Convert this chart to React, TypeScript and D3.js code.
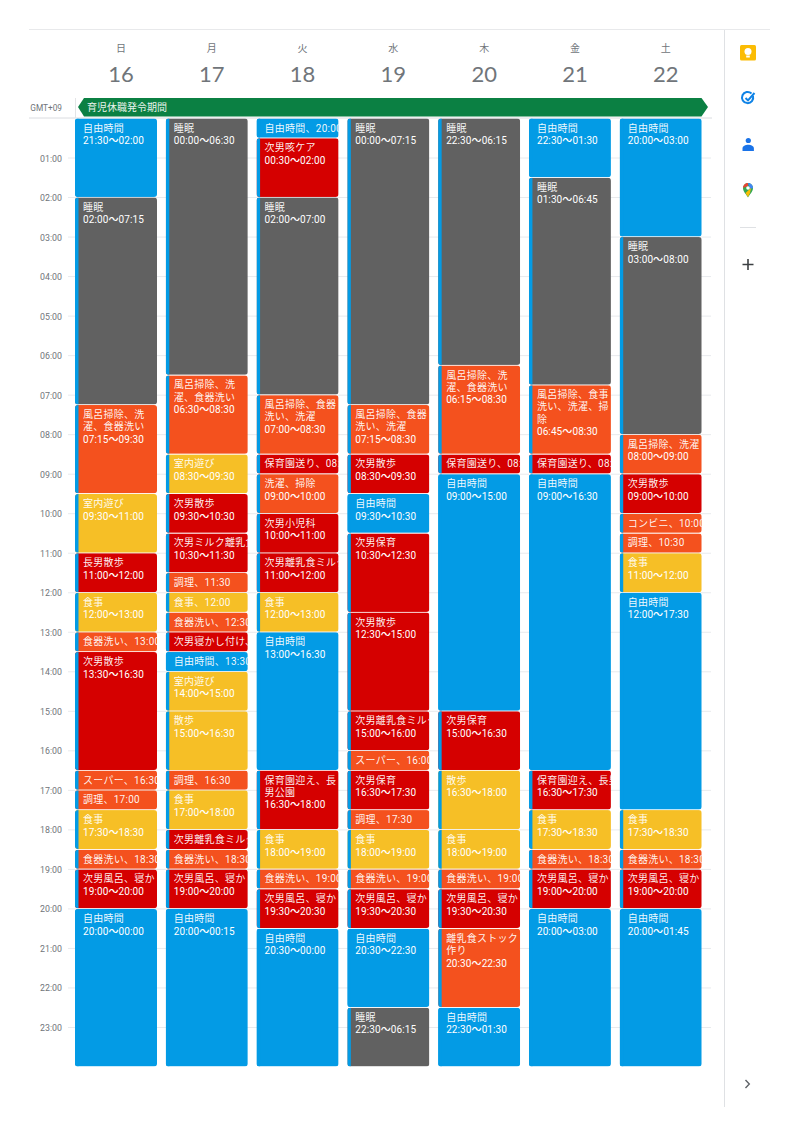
import React from "react";
import * as d3 from "d3";

type Kind = "free" | "sleep" | "chore" | "kid" | "meal";
type Ev = [number, number, Kind, string[]];

const dayNames = ["日", "月", "火", "水", "木", "金", "土"];
const dayNumbers = ["16", "17", "18", "19", "20", "21", "22"];
const hourLabels = d3.range(1, 24).map((h) => `${String(h).padStart(2, "0")}:00`);
const bannerLabel = "育児休職発令期間";

const sun16: Ev[] = [
  [0, 2, "free", ["自由時間", "21:30〜02:00"]],
  [2, 7.25, "sleep", ["睡眠", "02:00〜07:15"]],
  [7.25, 9.5, "chore", ["風呂掃除、洗", "濯、食器洗い", "07:15〜09:30"]],
  [9.5, 11, "meal", ["室内遊び", "09:30〜11:00"]],
  [11, 12, "kid", ["長男散歩", "11:00〜12:00"]],
  [12, 13, "meal", ["食事", "12:00〜13:00"]],
  [13, 13.5, "chore", ["食器洗い、13:00"]],
  [13.5, 16.5, "kid", ["次男散歩", "13:30〜16:30"]],
  [16.5, 17, "chore", ["スーパー、16:30"]],
  [17, 17.5, "chore", ["調理、17:00"]],
  [17.5, 18.5, "meal", ["食事", "17:30〜18:30"]],
  [18.5, 19, "chore", ["食器洗い、18:30"]],
  [19, 20, "kid", ["次男風呂、寝か", "19:00〜20:00"]],
  [20, 24, "free", ["自由時間", "20:00〜00:00"]],
];

const mon17: Ev[] = [
  [0, 6.5, "sleep", ["睡眠", "00:00〜06:30"]],
  [6.5, 8.5, "chore", ["風呂掃除、洗", "濯、食器洗い", "06:30〜08:30"]],
  [8.5, 9.5, "meal", ["室内遊び", "08:30〜09:30"]],
  [9.5, 10.5, "kid", ["次男散歩", "09:30〜10:30"]],
  [10.5, 11.5, "kid", ["次男ミルク離乳食", "10:30〜11:30"]],
  [11.5, 12, "chore", ["調理、11:30"]],
  [12, 12.5, "meal", ["食事、12:00"]],
  [12.5, 13, "chore", ["食器洗い、12:30"]],
  [13, 13.5, "kid", ["次男寝かし付け、"]],
  [13.5, 14, "free", ["自由時間、13:30"]],
  [14, 15, "meal", ["室内遊び", "14:00〜15:00"]],
  [15, 16.5, "meal", ["散歩", "15:00〜16:30"]],
  [16.5, 17, "chore", ["調理、16:30"]],
  [17, 18, "meal", ["食事", "17:00〜18:00"]],
  [18, 18.5, "kid", ["次男離乳食ミルク"]],
  [18.5, 19, "chore", ["食器洗い、18:30"]],
  [19, 20, "kid", ["次男風呂、寝か", "19:00〜20:00"]],
  [20, 24, "free", ["自由時間", "20:00〜00:15"]],
];

const tue18: Ev[] = [
  [0, 0.5, "free", ["自由時間、20:00"]],
  [0.5, 2, "kid", ["次男咳ケア", "00:30〜02:00"]],
  [2, 7, "sleep", ["睡眠", "02:00〜07:00"]],
  [7, 8.5, "chore", ["風呂掃除、食器", "洗い、洗濯", "07:00〜08:30"]],
  [8.5, 9, "kid", ["保育園送り、08:30"]],
  [9, 10, "chore", ["洗濯、掃除", "09:00〜10:00"]],
  [10, 11, "kid", ["次男小児科", "10:00〜11:00"]],
  [11, 12, "kid", ["次男離乳食ミルク", "11:00〜12:00"]],
  [12, 13, "meal", ["食事", "12:00〜13:00"]],
  [13, 16.5, "free", ["自由時間", "13:00〜16:30"]],
  [16.5, 18, "kid", ["保育園迎え、長", "男公園", "16:30〜18:00"]],
  [18, 19, "meal", ["食事", "18:00〜19:00"]],
  [19, 19.5, "chore", ["食器洗い、19:00"]],
  [19.5, 20.5, "kid", ["次男風呂、寝か", "19:30〜20:30"]],
  [20.5, 24, "free", ["自由時間", "20:30〜00:00"]],
];

const wed19: Ev[] = [
  [0, 7.25, "sleep", ["睡眠", "00:00〜07:15"]],
  [7.25, 8.5, "chore", ["風呂掃除、食器", "洗い、洗濯", "07:15〜08:30"]],
  [8.5, 9.5, "kid", ["次男散歩", "08:30〜09:30"]],
  [9.5, 10.5, "free", ["自由時間", "09:30〜10:30"]],
  [10.5, 12.5, "kid", ["次男保育", "10:30〜12:30"]],
  [12.5, 15, "kid", ["次男散歩", "12:30〜15:00"]],
  [15, 16, "kid", ["次男離乳食ミルク", "15:00〜16:00"]],
  [16, 16.5, "chore", ["スーパー、16:00"]],
  [16.5, 17.5, "kid", ["次男保育", "16:30〜17:30"]],
  [17.5, 18, "chore", ["調理、17:30"]],
  [18, 19, "meal", ["食事", "18:00〜19:00"]],
  [19, 19.5, "chore", ["食器洗い、19:00"]],
  [19.5, 20.5, "kid", ["次男風呂、寝か", "19:30〜20:30"]],
  [20.5, 22.5, "free", ["自由時間", "20:30〜22:30"]],
  [22.5, 24, "sleep", ["睡眠", "22:30〜06:15"]],
];

const thu20: Ev[] = [
  [0, 6.25, "sleep", ["睡眠", "22:30〜06:15"]],
  [6.25, 8.5, "chore", ["風呂掃除、洗", "濯、食器洗い", "06:15〜08:30"]],
  [8.5, 9, "kid", ["保育園送り、08:30"]],
  [9, 15, "free", ["自由時間", "09:00〜15:00"]],
  [15, 16.5, "kid", ["次男保育", "15:00〜16:30"]],
  [16.5, 18, "meal", ["散歩", "16:30〜18:00"]],
  [18, 19, "meal", ["食事", "18:00〜19:00"]],
  [19, 19.5, "chore", ["食器洗い、19:00"]],
  [19.5, 20.5, "kid", ["次男風呂、寝か", "19:30〜20:30"]],
  [20.5, 22.5, "chore", ["離乳食ストック", "作り", "20:30〜22:30"]],
  [22.5, 24, "free", ["自由時間", "22:30〜01:30"]],
];

const fri21: Ev[] = [
  [0, 1.5, "free", ["自由時間", "22:30〜01:30"]],
  [1.5, 6.75, "sleep", ["睡眠", "01:30〜06:45"]],
  [6.75, 8.5, "chore", ["風呂掃除、食事", "洗い、洗濯、掃", "除", "06:45〜08:30"]],
  [8.5, 9, "kid", ["保育園送り、08:30"]],
  [9, 16.5, "free", ["自由時間", "09:00〜16:30"]],
  [16.5, 17.5, "kid", ["保育園迎え、長男", "16:30〜17:30"]],
  [17.5, 18.5, "meal", ["食事", "17:30〜18:30"]],
  [18.5, 19, "chore", ["食器洗い、18:30"]],
  [19, 20, "kid", ["次男風呂、寝か", "19:00〜20:00"]],
  [20, 24, "free", ["自由時間", "20:00〜03:00"]],
];

const sat22: Ev[] = [
  [0, 3, "free", ["自由時間", "20:00〜03:00"]],
  [3, 8, "sleep", ["睡眠", "03:00〜08:00"]],
  [8, 9, "chore", ["風呂掃除、洗濯", "08:00〜09:00"]],
  [9, 10, "kid", ["次男散歩", "09:00〜10:00"]],
  [10, 10.5, "chore", ["コンビニ、10:00"]],
  [10.5, 11, "chore", ["調理、10:30"]],
  [11, 12, "meal", ["食事", "11:00〜12:00"]],
  [12, 17.5, "free", ["自由時間", "12:00〜17:30"]],
  [17.5, 18.5, "meal", ["食事", "17:30〜18:30"]],
  [18.5, 19, "chore", ["食器洗い、18:30"]],
  [19, 20, "kid", ["次男風呂、寝か", "19:00〜20:00"]],
  [20, 24, "free", ["自由時間", "20:00〜01:45"]],
];

const week = [sun16, mon17, tue18, wed19, thu20, fri21, sat22];

const kindColor: Record<Kind, string> = {
  free: "#039be5",
  sleep: "#616161",
  chore: "#f4511e",
  kid: "#d50000",
  meal: "#f6bf26",
};

const font = "Roboto, 'Noto Sans CJK JP', sans-serif";
const jpFont = "'Noto Sans CJK JP', Roboto, sans-serif";

// 0時が118.5px、1時間およそ39.5px
const y = d3.scaleLinear().domain([0, 24]).range([118.5, 1067]);
const x = d3.scaleBand<number>().domain(d3.range(7)).range([75, 710.5]);
const eventWidth = 82;

export default function App() {
  const bannerPath = d3.path();
  bannerPath.moveTo(84, 98);
  bannerPath.lineTo(701.5, 98);
  bannerPath.lineTo(708, 107);
  bannerPath.lineTo(701.5, 116.5);
  bannerPath.lineTo(84, 116.5);
  bannerPath.lineTo(78, 107);
  bannerPath.closePath();

  return (
    <svg
      width={800}
      height={1135}
      viewBox="0 0 800 1135"
      style={{ position: "absolute", left: 0, top: 0, background: "#fff" }}
    >
      <line x1={29} x2={770} y1={29.5} y2={29.5} stroke="#e8e9eb" />
      <line x1={724.5} x2={724.5} y1={30} y2={1107} stroke="#dfe1e4" />

      {dayNames.map((d, i) => (
        <g key={d} textAnchor="middle" fill="#70757a">
          <text x={x(i)! + 46} y={52} fontSize={10} fontFamily={jpFont}>
            {d}
          </text>
          <text x={x(i)! + 46} y={81.5} fontSize={22} fontFamily="Lato, sans-serif">
            {dayNumbers[i]}
          </text>
        </g>
      ))}

      <text x={62} y={111} textAnchor="end" fontSize={8.3} fill="#70757a" fontFamily={font}>
        GMT+09
      </text>
      <line x1={29} x2={712} y1={118} y2={118} stroke="#dadce0" />
      <line x1={75.5} x2={75.5} y1={98} y2={118} stroke="#e3e4e6" />

      <path d={bannerPath.toString()} fill="#0b8043" />
      <text x={87} y={110.5} fontSize={10} fill="#e8f2ec" fontFamily={jpFont}>
        {bannerLabel}
      </text>

      {hourLabels.map((h, i) => (
        <g key={h}>
          <line x1={68} x2={711} y1={y(i + 1)} y2={y(i + 1)} stroke="#e8eaed" />
          <text
            x={62}
            y={y(i + 1) + 3.5}
            textAnchor="end"
            fontSize={8.8}
            fill="#70757a"
            fontFamily={font}
          >
            {h}
          </text>
        </g>
      ))}

      {week.map((events, day) =>
        events.map(([start, end, kind, lines], k) => {
          const left = x(day)!;
          const top = y(start);
          const h = y(end) - y(start) - 0.6;
          const id = `ev-${day}-${k}`;
          return (
            <g key={id}>
              <clipPath id={id}>
                <rect x={left} y={top} width={eventWidth} height={h} rx={3} />
              </clipPath>
              <g clipPath={`url(#${id})`}>
                <rect x={left} y={top} width={eventWidth} height={h} fill={kindColor[kind]} />
                <rect x={left} y={top} width={3.5} height={h} fill="#039be5" />
                {lines.map((line, n) => {
                  const isTime = /^\d\d:\d\d〜/.test(line);
                  // 時刻行だけ少し行間が広い
                  const lineY = top + 13 + n * 12.2 + (isTime && n > 0 ? 0.5 : 0);
                  return (
                    <text
                      key={n}
                      x={left + 8}
                      y={lineY}
                      fontSize={10}
                      fontWeight={isTime ? 450 : 400}
                      letterSpacing={isTime ? 0.1 : 0.25}
                      fill="#fff"
                      fillOpacity={isTime ? 1 : 0.94}
                      fontFamily={font}
                    >
                      {line}
                    </text>
                  );
                })}
              </g>
            </g>
          );
        })
      )}

      {/* 右側のサイドパネル */}
      <rect x={740} y={45} width={16} height={15.5} rx={1.5} fill="#fbbc04" />
      <circle cx={748} cy={51.5} r={3.5} fill="#fff" />
      <rect x={746.2} y={55.5} width={3.6} height={2} fill="#fff" />

      <path d="M753 96a5.600 5.600 0 1 1-1.500-2.500" fill="none" stroke="#0f83e6" strokeWidth={2} />
      <path d="M745.500 98l2.500 2.400 6.500-7.400" fill="none" stroke="#0f83e6" strokeWidth={2} />

      <circle cx={748.3} cy={140.5} r={2.6} fill="#1a73e8" />
      <path d="M742.5 151v-2.5c0-2.4 3-3.7 5.7-3.7s5.7 1.3 5.7 3.7v2.5z" fill="#1a73e8" />

      <path d="M748 197.5c-1.2-2.8-5-5.5-5-9.5a5 5 0 0 1 10 0c0 4-3.800 6.700-5 9.500z" fill="#34a853" />
      <path d="M743 188a5 5 0 0 1 5-5v3z" fill="#ea4335" />
      <path d="M748 183a5 5 0 0 1 5 5l-3 1z" fill="#4285f4" />
      <path d="M745.5 193l5.500-5-1 5-2 4z" fill="#fbbc04" />
      <circle cx={748} cy={188} r={1.8} fill="#fff" />

      <line x1={740} x2={756} y1={227.5} y2={227.5} stroke="#dfe1e4" />

      <path d="M748 259v11M742.500 264.500h11" stroke="#3c4043" strokeWidth={1.6} fill="none" />
      <path d="M745.500 1080l3.800 4-3.800 4" stroke="#5f6368" strokeWidth={1.4} fill="none" />
    </svg>
  );
}
